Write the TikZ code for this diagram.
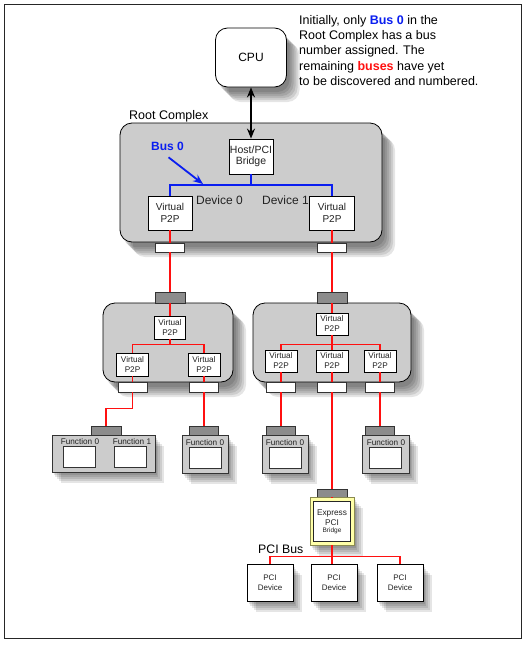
\documentclass[tikz,border=0pt]{standalone}
\usepackage{fontspec}
\setmainfont{Liberation Sans}
\usetikzlibrary{arrows.meta,shadows}
\definecolor{rcgray}{HTML}{CCCCCC}
\definecolor{portgray}{HTML}{8C8C8C}
\definecolor{busblue}{HTML}{0A1EF0}
\definecolor{busred}{HTML}{FF1010}
\definecolor{bridgeyellow}{HTML}{FFFFA8}
\definecolor{bridgeedge}{HTML}{8A8A50}
\definecolor{txtgray}{HTML}{222222}
\begin{document}
\begin{tikzpicture}[x=1pt,y=-1pt,
  sz/.style 2 args={minimum width=#1pt, minimum height=#2pt},
  sh/.style 2 args={drop shadow={shadow xshift=#1pt, shadow yshift=-#2pt, fill=black, opacity=0.1}},
  shad/.style={sh={13}{15}, sh={11}{13}, sh={9}{11}, sh={7}{9}, sh={5}{7}, sh={3}{5}},
  smshad/.style={sh={9}{11}, sh={7}{9}, sh={5}{7}, sh={3}{5}, sh={2}{3}},
  box/.style={draw=black, fill=white, line width=0.8pt, inner sep=0pt, align=center, text=txtgray},
  grp/.style={draw=black, fill=rcgray, line width=0.8pt, inner sep=0pt, rounded corners=12pt},
  fbox/.style={draw=black!80, fill=rcgray, line width=0.8pt, inner sep=0pt},
  wport/.style={draw=black!80, fill=white, line width=0.7pt, inner sep=0pt},
  gport/.style={draw=black!80, fill=portgray, line width=0.7pt, inner sep=0pt},
  inbox/.style={draw=black!80, fill=white, line width=0.8pt, inner sep=0pt},
  redline/.style={draw=busred, line width=1.3pt},
  blueline/.style={draw=busblue, line width=1.8pt},
  vpA/.style={font=\fontsize{10}{12.5}\selectfont},
  vpB/.style={font=\fontsize{8.2}{10}\selectfont},
  fnlbl/.style={font=\fontsize{8.2}{10}\selectfont, text=txtgray, inner sep=0pt}
]
\useasboundingbox (0,0) rectangle (531,651);
\fill[white] (0,0) rectangle (531,651);
\draw[line width=0.8pt, black!85] (4,4) rectangle (521,638);

% note text
\node[anchor=north west, align=left, inner sep=0pt, font=\fontsize{12.5}{15.3}\selectfont] (note) at (299,15)
 {Initially, only \textcolor{busblue}{\textbf{Bus 0}} in the\\
  Root Complex has a bus\\
  number assigned. The\\
  remaining \textcolor{busred}{\textbf{buses}} have yet\\
  to be discovered and numbered.};

% CPU
\node[box, shad, rounded corners=12pt, sz={71}{59}, font=\fontsize{12}{14}\selectfont, text=black] (cpu) at (251,57.5) {CPU};

% Root complex
\node[anchor=base west, inner sep=0pt, font=\fontsize{12.5}{14}\selectfont] (rclbl) at (129,119.5) {Root Complex};
\node[grp, shad, sz={262}{119}] (rc) at (251,182.5) {};
\node[box, sz={44}{35}, font=\fontsize{10.5}{11.5}\selectfont] (host) at (251,156.5) {Host/PCI\\Bridge};
\node[box, sz={44}{34}, vpA] (vp0) at (170,213) {Virtual\\P2P};
\node[box, sz={45}{34}, vpA] (vp1) at (332,213) {Virtual\\P2P};
\node[inner sep=0pt, font=\fontsize{12}{14}\selectfont, text=txtgray] (dev0) at (219.5,200.5) {Device 0};
\node[inner sep=0pt, font=\fontsize{12}{14}\selectfont, text=txtgray] (dev1) at (285.5,200.5) {Device 1};
\node[anchor=base west, inner sep=0pt, text=busblue, font=\bfseries\fontsize{12}{14}\selectfont] (bus0lbl) at (151,150) {Bus 0};
\coordinate (bat) at (203,184);
\draw[blueline] (vp0.north) -- ++(0,-11) -| (vp1.north);
\draw[blueline] (host.south) -- ++(0,11);
\draw[blueline, -{Stealth[length=10pt,width=8pt]}] ([shift={(1pt,-7pt)}]bus0lbl.south) -- (bat);
\draw[line width=1.8pt, {Stealth[length=10pt,width=8pt]}-{Stealth[length=10pt,width=8pt]}] (cpu.south) -- (host.north);

\node[wport, sz={29}{9}] (p0) at (170,247.5) {};
\node[wport, sz={29}{9}] (p1) at (332,247.5) {};

% left switch
\node[grp, shad, sz={130}{79}] (swL) at (168,342.5) {};
\node[gport, sz={30}{11}] (gL) at (170,297.5) {};
\node[box, sz={31}{23}, vpB] (vpL) at (170,327.5) {Virtual\\P2P};
\node[box, sz={32}{23}, vpB] (vpLa) at (132.5,364.5) {Virtual\\P2P};
\node[box, sz={32}{23}, vpB] (vpLb) at (204,364.5) {Virtual\\P2P};
\node[wport, sz={29}{10}] (wLa) at (132.5,387) {};
\node[wport, sz={29}{10}] (wLb) at (204,387) {};

% right switch
\node[grp, shad, sz={158}{79}] (swR) at (332,342.5) {};
\node[gport, sz={30}{11}] (gR) at (332,297.5) {};
\node[box, sz={32}{22}, vpB] (vpR) at (332,324) {Virtual\\P2P};
\node[box, sz={32}{22}, vpB] (vpRa) at (281,361) {Virtual\\P2P};
\node[box, sz={32}{22}, vpB] (vpRb) at (332,361) {Virtual\\P2P};
\node[box, sz={32}{22}, vpB] (vpRc) at (380,361) {Virtual\\P2P};
\node[wport, sz={29}{10}] (wRa) at (281,387) {};
\node[wport, sz={29}{10}] (wRb) at (332,387) {};
\node[wport, sz={29}{10}] (wRc) at (380,387) {};

% function boxes
\node[fbox, smshad, sz={103}{37}] (fA) at (103.5,453.5) {};
\node[gport, sz={30}{9}] (gA) at (106,430.5) {};
\node[fnlbl] (fA0l) at (80,442) {Function 0};
\node[fnlbl] (fA1l) at (132,442) {Function 1};
\node[inbox, sz={32}{21}] (fA0) at (79,456.5) {};
\node[inbox, sz={32}{21}] (fA1) at (130,456.5) {};

\node[fbox, smshad, sz={46}{38}] (fB) at (205,454) {};
\node[gport, sz={29}{9}] (gB) at (204,430.5) {};
\node[fnlbl] (fBl) at (205,443) {Function 0};
\node[inbox, sz={32}{21}] (fB0) at (205,457.5) {};

\node[fbox, smshad, sz={46}{38}] (fC) at (285,454) {};
\node[gport, sz={29}{9}] (gC) at (281,430.5) {};
\node[fnlbl] (fCl) at (285,443) {Function 0};
\node[inbox, sz={32}{21}] (fC0) at (285,457.5) {};

\node[fbox, smshad, sz={47}{38}] (fD) at (385.5,454) {};
\node[gport, sz={29}{9}] (gD) at (380,430.5) {};
\node[fnlbl] (fDl) at (386,443) {Function 0};
\node[inbox, sz={32}{21}] (fD0) at (385,457.5) {};

% bridge
\node[gport, sz={30}{8}] (gX) at (332,493) {};
\node[draw=bridgeedge, fill=bridgeyellow, line width=0.7pt, smshad, sz={44}{48}, inner sep=0pt] (brY) at (332,521) {};
\node[box, sz={37}{40}, draw=black!85] (br) at (332,521) {};
\node[inner sep=0pt, font=\fontsize{8.3}{10}\selectfont, text=txtgray, align=center] (brt) at (332,518) {Express\\PCI};
\node[inner sep=0pt, font=\fontsize{6.5}{8}\selectfont, text=txtgray] (brt2) at (332,531) {Bridge};
\node[anchor=base west, inner sep=0pt, font=\fontsize{12.3}{14}\selectfont] (pcibus) at (258,553) {PCI Bus};

% PCI devices
\node[box, smshad, sz={46}{37}, font=\fontsize{8}{10.5}\selectfont] (pci1) at (270,582.5) {PCI\\Device};
\node[box, smshad, sz={46}{37}, font=\fontsize{8}{10.5}\selectfont] (pci2) at (334,582.5) {PCI\\Device};
\node[box, smshad, sz={46}{37}, font=\fontsize{8}{10.5}\selectfont] (pci3) at (400,582.5) {PCI\\Device};

% red connectors
\draw[redline] (vp0.south) -- (p0.north);
\draw[redline] (vp1.south) -- (p1.north);
\draw[redline] (p0.south) -- (gL.north);
\draw[redline] (p1.south) -- (gR.north);
\draw[redline] (gL.south) -- (vpL.north);
\draw[redline] (gR.south) -- (vpR.north);
\draw[redline] (vpL.south) -- ++(0,6);
\draw[redline] (vpLa.north) -- ++(0,-8) -| (vpLb.north);
\draw[redline] (vpR.south) -- ++(0,10);
\draw[redline] (vpRa.north) -- ++(0,-5) -| (vpRc.north);
\draw[redline] (vpRb.north) -- ++(0,-5);
\draw[redline] (vpLa.south) -- (wLa.north);
\draw[redline] (vpLb.south) -- (wLb.north);
\draw[redline] (vpRa.south) -- (wRa.north);
\draw[redline] (vpRb.south) -- (wRb.north);
\draw[redline] (vpRc.south) -- (wRc.north);
\draw[redline] (wLa.south) -- ++(0,16) -| (gA.north);
\draw[redline] (wLb.south) -- (gB.north);
\draw[redline] (wRa.south) -- (gC.north);
\draw[redline] (wRc.south) -- (gD.north);
\draw[redline] (wRb.south) -- (gX.north);
\draw[redline] (gX.south) -- (brY.north);
\draw[redline] (brY.south) -- (brY.south |- pci2.north);
\draw[redline] (pci1.north) -- ++(0,-7) -| (pci3.north);
\end{tikzpicture}
\end{document}
